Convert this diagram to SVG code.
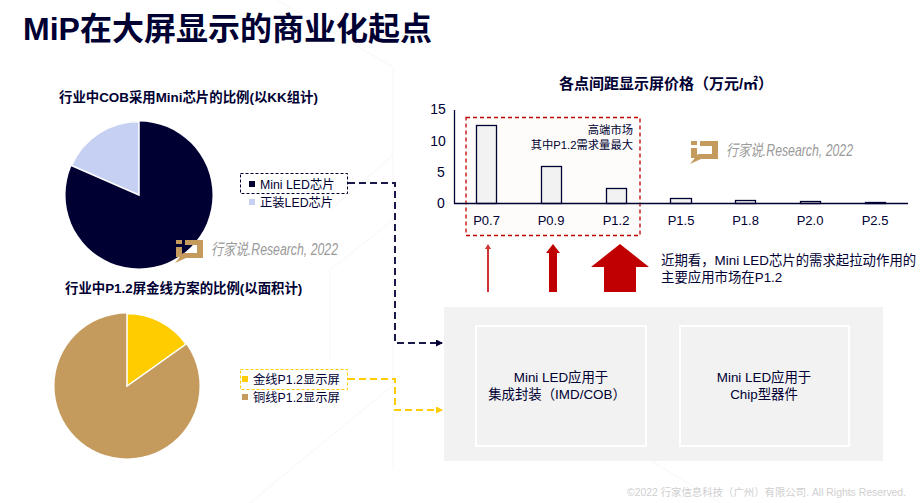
<svg xmlns="http://www.w3.org/2000/svg" width="921" height="503" viewBox="0 0 921 503">
<style>
text{font-family:"Liberation Sans","Noto Sans CJK SC",sans-serif;fill:#000033}
.t{font-size:12.3px}
.p{font-size:13.4px}
.b{font-weight:bold}
.ax{font-size:13px;text-anchor:middle}
.yl{font-size:14px;text-anchor:middle}
.bar{fill:#f2f2f2;stroke:#000033;stroke-width:1.3}
.wm{font-family:"Liberation Sans Narrow","Liberation Sans","Noto Sans CJK SC",sans-serif;font-size:16px;font-style:italic;fill:#9a9a9a}
.logo{fill:#c59b5d}
.box{fill:none;stroke:#fff;stroke-width:2}
</style>
<defs>
<marker id="an" markerWidth="7" markerHeight="7" refX="6" refY="3.5" orient="auto" markerUnits="userSpaceOnUse"><path d="M0 0L7 3.500L0 7Z" fill="#000033"/></marker>
<marker id="ay" markerWidth="7" markerHeight="7" refX="6" refY="3.500" orient="auto" markerUnits="userSpaceOnUse"><path d="M0 0L7 3.500L0 7Z" fill="#ffcc00"/></marker>
<g id="lg"><path class="logo" d="M1 0H7V4H1ZM1 7H7V17H1ZM10 0H28V18H11L0 23 8 13H22V5H10Z"/></g>
</defs>
<rect width="921" height="503" fill="#fff"/>
<g fill="none" stroke="#f6f6f6"><path d="M277 0L393 67V470M393 155L330 210M393 220L330 270V360M393 385L250 503M650 460L720 503"/></g>
<text id="title" x="23" y="40" class="b" style="font-size:32px">MiP在大屏显示的商业化起点</text>

<g id="pie1">
<text x="59" y="102" class="b" style="font-size:13.400px">行业中COB采用Mini芯片的比例(以KK组计)</text>
<circle cx="139" cy="195" r="73.500" fill="#000033"/>
<path d="M139 195L71.500 165.500A73.500 73.500 0 0 1 139 121.500Z" fill="#c5d0f2" stroke="#fff" stroke-width="1.500"/>
</g>
<g id="legend1">
<rect x="240.500" y="173.500" width="107" height="20" fill="none" stroke="#000033" stroke-dasharray="3 2"/>
<rect x="249" y="181" width="6" height="6" fill="#000033"/>
<text x="260" y="189" class="t">Mini LED芯片</text>
<rect x="249" y="199" width="6" height="6" fill="#c5d0f2"/>
<text x="260" y="207" class="t">正装LED芯片</text>
</g>
<g id="wm1"><use href="#lg" x="175" y="240"/><text x="211" y="255" class="wm" textLength="127" lengthAdjust="spacingAndGlyphs">行家说.Research, 2022</text></g>

<g id="pie2">
<text x="65" y="293" class="b" style="font-size:13.400px">行业中P1.2屏金线方案的比例(以面积计)</text>
<circle cx="127" cy="386" r="72.500" fill="#c59b5d"/>
<path d="M127 386V313.500A72.500 72.500 0 0 1 186 344Z" fill="#ffcc00" stroke="#fff" stroke-width="1.500"/>
</g>
<g id="legend2">
<rect x="240.500" y="369.500" width="107" height="20" fill="none" stroke="#ffcc00" stroke-dasharray="3 2"/>
<rect x="242" y="376" width="6" height="6" fill="#ffcc00"/>
<text x="253" y="384" class="t">金线P1.2显示屏</text>
<rect x="242" y="394" width="6" height="6" fill="#c59b5d"/>
<text x="253" y="402" class="t">铜线P1.2显示屏</text>
</g>

<g id="connectors" fill="none" stroke-width="2" stroke-dasharray="7 4">
<path d="M348 183H395V343H442" stroke="#1a1a4a" marker-end="url(#an)"/>
<path d="M348 379H395V410H442" stroke="#ffcc00" marker-end="url(#ay)"/>
</g>

<g id="chart">
<text x="666" y="89" text-anchor="middle" class="b" style="font-size:15px">各点间距显示屏价格（万元/㎡）</text>
<rect x="466" y="117.500" width="174" height="118" fill="#fdfcfa" stroke="#c00000" stroke-width="1.300" stroke-dasharray="4 3"/>
<rect class="bar" x="476.500" y="125.500" width="20" height="78"/>
<rect class="bar" x="541.500" y="166.500" width="20" height="37"/>
<rect class="bar" x="606.500" y="188.500" width="20" height="15"/>
<rect class="bar" x="670.500" y="198.500" width="21" height="5"/>
<rect class="bar" x="735.500" y="200.500" width="20" height="3"/>
<rect class="bar" x="800.500" y="201.500" width="20" height="2"/>
<rect class="bar" x="865.500" y="202.500" width="20" height="1"/>
<path d="M454.500 110V203.500H908" fill="none" stroke="#000033" stroke-width="1.300"/>
<text class="yl" x="438" y="114">15</text>
<text class="yl" x="438" y="146">10</text>
<text class="yl" x="441" y="177">5</text>
<text class="yl" x="441" y="208">0</text>
<text class="ax" x="486.500" y="225">P0.7</text>
<text class="ax" x="551" y="225">P0.9</text>
<text class="ax" x="616" y="225">P1.2</text>
<text class="ax" x="681" y="225">P1.5</text>
<text class="ax" x="745.500" y="225">P1.8</text>
<text class="ax" x="810" y="225">P2.0</text>
<text class="ax" x="875" y="225">P2.5</text>
<text x="633" y="134" text-anchor="end" style="font-size:11.300px">高端市场</text>
<text x="633" y="149" text-anchor="end" style="font-size:11.300px">其中P1.2需求量最大</text>
</g>
<g id="wm2"><use href="#lg" x="690" y="141"/><text x="726" y="156" class="wm" textLength="127" lengthAdjust="spacingAndGlyphs">行家说.Research, 2022</text></g>

<g id="arrows" fill="#c00000">
<path d="M488 244L491 249H489V292H487V249H485Z" opacity=".8"/>
<path d="M553 244L560 253H557V292H549V253H546Z"/>
<path d="M620 244L649 267H636V292H604V267H591Z"/>
</g>
<text id="note" class="p"><tspan x="661" y="265">近期看，Mini LED芯片的需求起拉动作用的</tspan><tspan x="661" y="282">主要应用市场在P1.2</tspan></text>

<g id="panel">
<rect x="444" y="307" width="439" height="154" fill="#f2f2f2"/>
<g id="n1"><rect class="box" x="476" y="326" width="170" height="120"/>
<text x="561" y="382" text-anchor="middle" class="p">Mini LED应用于</text>
<text x="557" y="399" text-anchor="middle" class="p">集成封装（IMD/COB）</text></g>
<g id="n2"><rect class="box" x="680" y="326" width="169" height="120"/>
<text x="764" y="382" text-anchor="middle" class="p">Mini LED应用于</text>
<text x="764" y="399" text-anchor="middle" class="p">Chip型器件</text></g>
</g>
<text id="copyright" x="627" y="496" style="font-size:10.400px;fill:#cfcfcf">©2022 行家信息科技（广州）有限公司. All Rights Reserved.</text>
</svg>
